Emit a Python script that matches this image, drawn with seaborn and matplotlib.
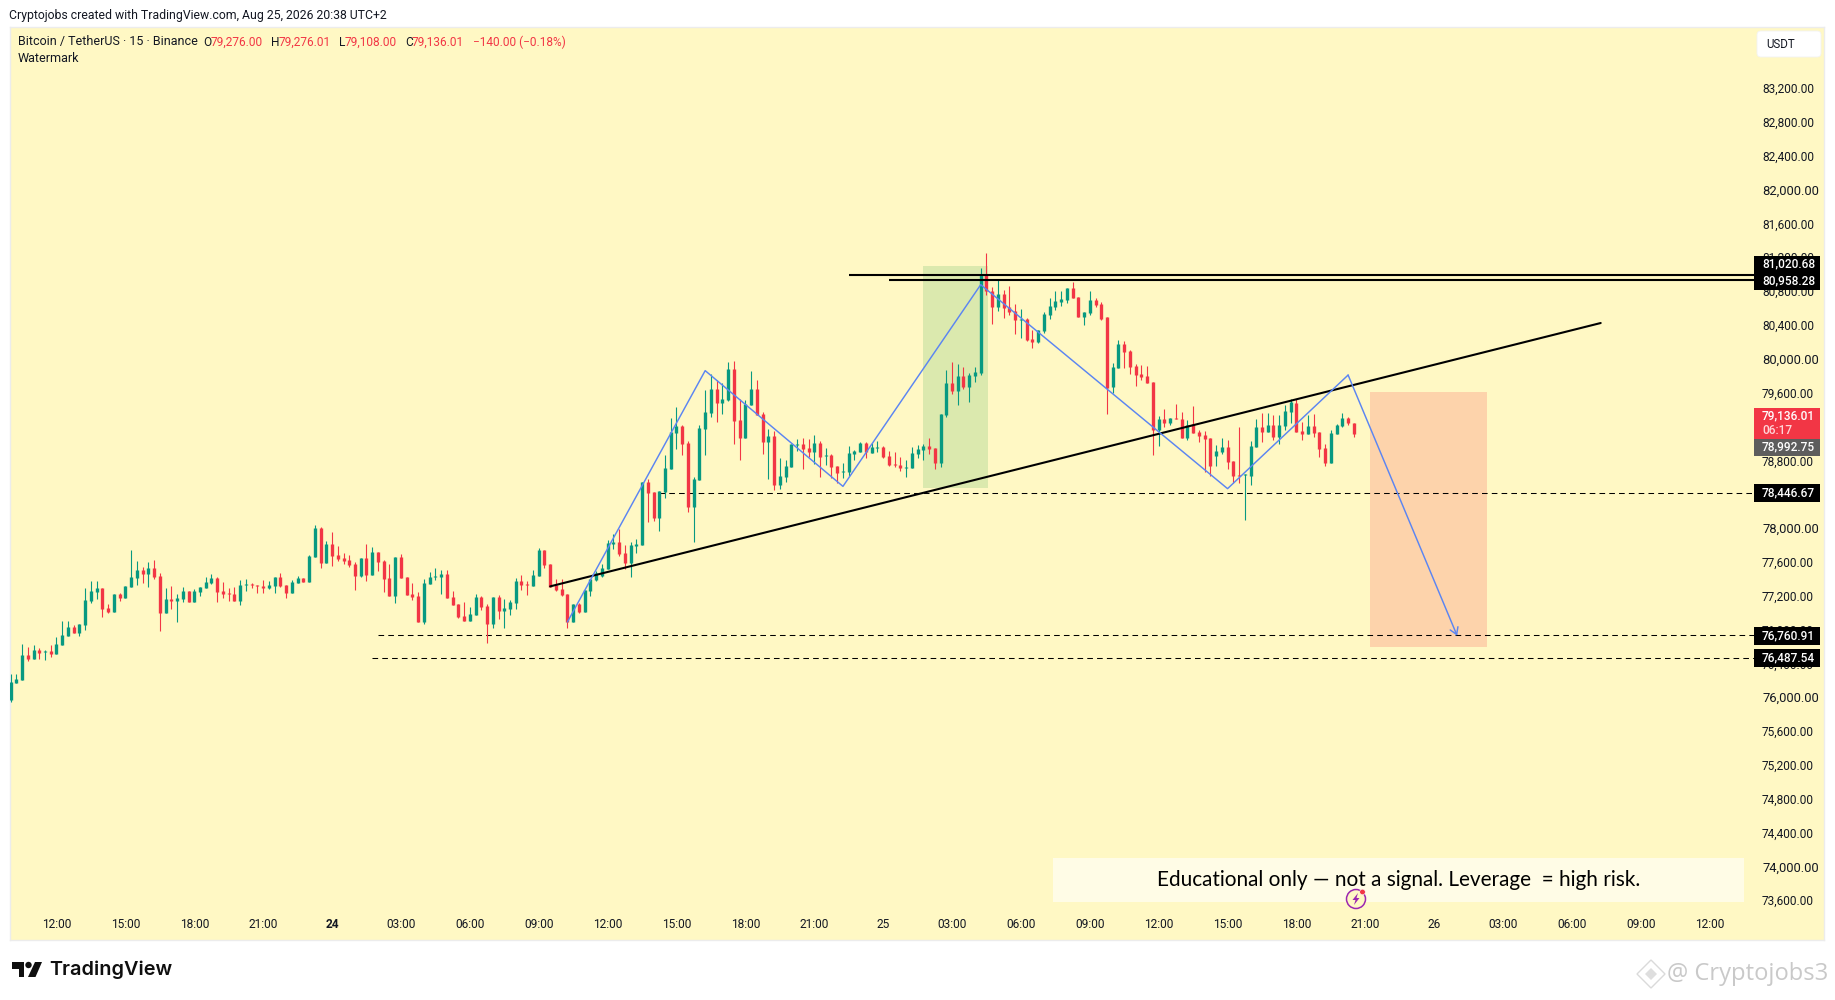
import matplotlib
matplotlib.use('Agg')
from matplotlib import pyplot as plt
from matplotlib.patches import Circle, FancyBboxPatch, Polygon, Rectangle
from matplotlib.transforms import ScaledTranslation
import pandas as pd
import seaborn as sns

# 15 minute candles, bar 0 is Aug 23 10:00
opens = [76000, 76197, 76233, 76528, 76481, 76587, 76564, 76576, 76540, 76647,
         76753, 76859, 76788, 76883, 77167, 77273, 77320, 77084, 77037, 77249,
         77202, 77331, 77438, 77532, 77485, 77556, 77461, 77024, 77190, 77166,
         77190, 77284, 77154, 77272, 77320, 77379, 77438, 77284, 77260, 77249,
         77166, 77355, 77367, 77355, 77343, 77320, 77343, 77450, 77355, 77260,
         77379, 77438, 77391, 77686, 78029, 77615, 77840, 77710, 77674, 77651,
         77603, 77461, 77674, 77473, 77745, 77639, 77438, 77225, 77686, 77450,
         77249, 77225, 76918, 77367, 77450, 77450, 77485, 77213, 77130, 76989,
         76930, 77000, 77213, 77107, 76894, 77213, 77048, 77071, 77142, 77402,
         77367, 77343, 77461, 77769, 77603, 77355, 77308, 77249, 76918, 77131,
         77036, 77284, 77414, 77461, 77544, 77840, 77863, 77733, 77615, 77816,
         77828, 78569, 78451, 78147, 78451, 78726, 79152, 79235, 79034, 78277,
         78596, 79199, 79388, 79672, 79507, 79538, 79908, 79306, 79093, 79483,
         79672, 79376, 79046, 79116, 78537, 78632, 78750, 79010, 79022, 78975,
         78927, 79034, 78880, 78892, 78762, 78691, 78691, 78904, 78927, 79034,
         78916, 78975, 78987, 78880, 78785, 78774, 78738, 78738, 78904, 78951,
         79000, 78975, 78797, 79365, 79743, 79648, 79826, 79696, 79826, 79861,
         81031, 80830, 80641, 80795, 80641, 80594, 80488, 80499, 80263, 80228,
         80357, 80547, 80641, 80700, 80724, 80866, 80759, 80523, 80570, 80724,
         80677, 80523, 79696, 79920, 80204, 80121, 79944, 79849, 79826, 79755,
         79187, 79317, 79270, 79329, 79317, 79093, 79258, 79164, 79128, 79093,
         78880, 78927, 78986, 78821, 78655, 78655, 78644, 78986, 79223, 79164,
         79246, 79105, 79235, 79400, 79506, 79176, 79140, 79235, 79164, 78975,
         78797, 79140, 79235, 79329, 79276]
highs = [76304, 76304, 76658, 76623, 76647, 76611, 76587, 76647, 76741, 76930,
         76930, 76883, 76895, 77320, 77403, 77403, 77320, 77131, 77249, 77261,
         77344, 77769, 77639, 77568, 77627, 77651, 77497, 77320, 77343, 77249,
         77331, 77284, 77308, 77331, 77450, 77485, 77450, 77391, 77320, 77331,
         77414, 77426, 77379, 77355, 77414, 77402, 77450, 77497, 77355, 77414,
         77461, 77438, 77710, 78064, 78041, 77875, 77982, 77816, 77733, 77710,
         77627, 77674, 77840, 77804, 77745, 77651, 77603, 77686, 77722, 77450,
         77379, 77272, 77426, 77509, 77556, 77532, 77532, 77284, 77130, 77154,
         77095, 77249, 77225, 77130, 77213, 77237, 77190, 77178, 77438, 77473,
         77402, 77532, 77792, 77769, 77603, 77426, 77426, 77249, 77131, 77142,
         77296, 77426, 77521, 77603, 77887, 77958, 78017, 77828, 77863, 77899,
         78569, 78608, 78451, 78462, 78892, 79329, 79459, 79246, 79057, 78632,
         79246, 79660, 79849, 79778, 79743, 79991, 80003, 79554, 79542, 79885,
         79778, 79400, 79199, 79176, 78856, 78833, 79022, 79081, 79093, 79081,
         79128, 79057, 78975, 78904, 78762, 78797, 78998, 78951, 79046, 79046,
         79034, 79057, 78998, 78939, 78927, 78868, 78833, 78987, 79010, 79022,
         79093, 78975, 79376, 79897, 79991, 79967, 79932, 79861, 79932, 81102,
         81280, 80878, 80960, 80842, 80889, 80677, 80618, 80511, 80369, 80369,
         80582, 80748, 80830, 80830, 80866, 80937, 80759, 80582, 80830, 80748,
         80700, 80523, 79979, 80251, 80239, 80133, 79967, 79956, 79944, 79755,
         79353, 79435, 79329, 79495, 79400, 79306, 79471, 79187, 79176, 79093,
         79010, 79093, 79069, 78821, 79223, 78667, 79057, 79317, 79388, 79388,
         79365, 79365, 79483, 79554, 79554, 79282, 79365, 79376, 79164, 79022,
         79187, 79258, 79388, 79341, 79276]
lows = [75969, 76197, 76233, 76457, 76481, 76481, 76469, 76505, 76540, 76647,
        76753, 76788, 76753, 76824, 77143, 77190, 76977, 77025, 77037, 77167,
        77202, 77331, 77355, 77379, 77331, 77426, 76811, 77024, 77071, 76918,
        77154, 77154, 77154, 77225, 77320, 77367, 77154, 77201, 77166, 77166,
        77119, 77284, 77320, 77260, 77260, 77308, 77260, 77331, 77201, 77260,
        77379, 77391, 77391, 77686, 77556, 77615, 77580, 77639, 77603, 77568,
        77296, 77450, 77402, 77473, 77521, 77272, 77225, 77142, 77438, 77237,
        77178, 76918, 76894, 77367, 77414, 77249, 77201, 77119, 76965, 76930,
        76930, 77000, 77060, 76670, 76847, 76953, 76847, 76996, 77071, 77296,
        77237, 77343, 77461, 77556, 77331, 77284, 77225, 76847, 76918, 77024,
        77036, 77225, 77402, 77450, 77544, 77781, 77698, 77544, 77450, 77733,
        77828, 78100, 78112, 77994, 78384, 78726, 78963, 78892, 78218, 77867,
        78596, 78892, 79341, 79282, 79376, 79530, 79022, 78833, 79093, 79483,
        79365, 78904, 78608, 78478, 78490, 78573, 78750, 78939, 78726, 78868,
        78785, 78632, 78774, 78620, 78561, 78620, 78644, 78833, 78927, 78856,
        78916, 78927, 78856, 78762, 78750, 78703, 78632, 78738, 78856, 78833,
        78904, 78726, 78750, 79341, 79613, 79483, 79672, 79518, 79755, 79837,
        80783, 80440, 80594, 80511, 80547, 80322, 80275, 80239, 80157, 80216,
        80334, 80499, 80606, 80653, 80689, 80748, 80523, 80428, 80547, 80641,
        80488, 79376, 79625, 79920, 79920, 79849, 79707, 79778, 79743, 78892,
        78998, 79223, 79246, 79317, 79093, 79069, 79152, 79046, 78691, 78644,
        78762, 78904, 78726, 78561, 78561, 78123, 78537, 78986, 79046, 79164,
        79069, 79022, 79187, 79270, 79164, 79069, 79140, 79105, 78868, 78762,
        78797, 79140, 79223, 79246, 79108]
closes = [76205, 76245, 76528, 76481, 76587, 76552, 76576, 76540, 76658, 76765,
          76859, 76788, 76895, 77178, 77285, 77320, 77072, 77037, 77249, 77202,
          77344, 77450, 77532, 77485, 77556, 77450, 77024, 77190, 77166, 77201,
          77284, 77154, 77284, 77331, 77391, 77438, 77272, 77249, 77249, 77166,
          77355, 77367, 77355, 77343, 77320, 77355, 77450, 77343, 77260, 77391,
          77438, 77391, 77698, 78029, 77615, 77840, 77698, 77662, 77639, 77592,
          77461, 77674, 77473, 77745, 77627, 77426, 77225, 77686, 77438, 77237,
          77213, 76918, 77379, 77450, 77461, 77485, 77201, 77119, 76977, 76930,
          77012, 77213, 77095, 76894, 77213, 77048, 77083, 77154, 77402, 77355,
          77355, 77473, 77769, 77591, 77331, 77296, 77237, 76918, 77131, 77036,
          77296, 77426, 77497, 77556, 77852, 77863, 77722, 77615, 77828, 77840,
          78569, 78447, 78147, 78462, 78738, 79164, 79235, 79022, 78277, 78608,
          79211, 79400, 79672, 79507, 79554, 79908, 79294, 79093, 79495, 79672,
          79365, 79046, 79116, 78537, 78644, 78762, 79022, 79022, 78963, 78927,
          79034, 78868, 78892, 78750, 78679, 78703, 78916, 78939, 79034, 78927,
          78987, 78987, 78868, 78774, 78774, 78738, 78750, 78916, 78963, 79000,
          78963, 78797, 79376, 79743, 79648, 79826, 79696, 79837, 79873, 81031,
          80830, 80641, 80795, 80629, 80582, 80488, 80499, 80251, 80228, 80369,
          80558, 80653, 80712, 80736, 80866, 80748, 80523, 80582, 80724, 80665,
          80499, 79684, 79932, 80204, 80109, 79932, 79837, 79814, 79743, 79187,
          79317, 79270, 79329, 79317, 79093, 79246, 79152, 79116, 79081, 78762,
          78939, 78986, 78809, 78644, 78644, 78667, 78998, 79223, 79164, 79246,
          79105, 79246, 79412, 79514, 79164, 79140, 79235, 79152, 78963, 78797,
          79152, 79246, 79329, 79270, 79136]

# drawings on the chart
zigzag_bars = [97, 121, 145, 169, 212, 233]
zigzag_prices = [76918, 79889, 78521, 80905, 78494, 79837]
arrow_end = (252, 76755)
trend_bars = [94, 277]
trend_prices = [77339, 80452]
solid_levels = [81020.68, 80958.28]
solid_starts = [146, 153]
dashed_levels = [78446.67, 76760.91, 76487.54]
dashed_starts = [113, 64, 63]
line_end = 304
green_zone = (159, 170.3, 78502, 81126)
red_zone = (236.8, 257.2, 76623, 79637)

# axis labels
price_ticks = list(range(73600, 83201, 400))
time_labels = ['12:00', '15:00', '18:00', '21:00', '24', '03:00', '06:00', '09:00', '12:00',
               '15:00', '18:00', '21:00', '25', '03:00', '06:00', '09:00', '12:00', '15:00',
               '18:00', '21:00', '26', '03:00', '06:00', '09:00', '12:00']
time_bars = list(range(8, 297, 12))

BG = '#fff8c4'
UP = '#089981'
DOWN = '#f23645'
BLUE = '#5b85f2'
INK = '#131722'

sns.set_theme(style='white')
plt.rcParams['font.family'] = ['Roboto', 'DejaVu Sans']

candles = pd.DataFrame({'bar': range(len(opens)), 'open': opens, 'high': highs, 'low': lows, 'close': closes})
candles['side'] = ['up' if c >= o else 'down' for o, c in zip(opens, closes)]
# very small bodies still need about one pixel
candles['top'] = candles[['open', 'close']].max(axis=1)
candles['bottom'] = candles[['open', 'close']].min(axis=1)
candles['top'] = candles[['top', 'bottom']].apply(lambda r: max(r['top'], r['bottom'] + 12), axis=1)

wicks = candles.melt(id_vars=['bar', 'side'], value_vars=['low', 'high'], value_name='price')
bodies = candles.melt(id_vars=['bar', 'side'], value_vars=['bottom', 'top'], value_name='price')

fig = plt.figure(figsize=(18.35, 10), dpi=100, facecolor='white')
ax = fig.add_axes([10 / 1835, 1 - 940 / 1000, 1814 / 1835, 913 / 1000], facecolor=BG)

palette = {'up': UP, 'down': DOWN}
sns.lineplot(data=wicks, x='bar', y='price', hue='side', units='bar', estimator=None, palette=palette,
             lw=0.8, solid_capstyle='butt', legend=False, zorder=3, ax=ax)
sns.lineplot(data=bodies, x='bar', y='price', hue='side', units='bar', estimator=None, palette=palette,
             lw=2.4, solid_capstyle='butt', legend=False, zorder=3, ax=ax)

ax.set_xlim(-0.1, 315.9)
ax.set_ylim(73159, 83951)

for x0, x1, y0, y1, color in [(*green_zone, '#dbe9ae'), (*red_zone, '#fdd3ab')]:
    ax.add_patch(Rectangle((x0, y0), x1 - x0, y1 - y0, facecolor=color, edgecolor='none', zorder=1))

ax.hlines(dashed_levels, dashed_starts, line_end, colors='black', lw=0.75, linestyles=[(0, (5.4, 4))], zorder=2)
ax.hlines(solid_levels, solid_starts, line_end, colors='black', lw=1.5, zorder=4)

sns.lineplot(x=trend_bars, y=trend_prices, color='black', lw=1.5, estimator=None, zorder=4, ax=ax)
sns.lineplot(x=zigzag_bars, y=zigzag_prices, color=BLUE, lw=1.05, estimator=None, sort=False, zorder=5, ax=ax)
ax.annotate('', xy=arrow_end, xytext=(zigzag_bars[-1], zigzag_prices[-1]), zorder=5,
            arrowprops=dict(arrowstyle='->,head_length=0.4,head_width=0.25', color=BLUE, lw=1.05, shrinkA=0, shrinkB=0))

ax.set_xlabel('')
ax.set_ylabel('')
ax.set_yticks(price_ticks, labels=[f'{p:,.2f}' for p in price_ticks])
ax.set_xticks(time_bars, labels=time_labels)
ax.yaxis.tick_right()
ax.tick_params(axis='y', length=0, pad=-62 * 0.72, labelsize=8.6, labelcolor=INK)
ax.tick_params(axis='x', length=0, pad=-15.5 * 0.72, labelsize=8.6, labelcolor=INK)
# tick labels sit a bit above the price they stand for
nudge = ScaledTranslation(0, 2.5 / 100, fig.dpi_scale_trans)
for tick, price in zip(ax.yaxis.get_major_ticks(), price_ticks):
    tick.label2.set_transform(tick.label2.get_transform() + nudge)
    if price % 2000 == 0:
        tick.label2.set_fontsize(9.4)
for label in ax.get_xticklabels():
    label.set_verticalalignment('center')
    if label.get_text() == '24':
        label.set_fontweight('bold')
for spine in ax.spines.values():
    spine.set_color('#ececec')
    spine.set_linewidth(1.0)

# everything below is placed in screen pixels
ov = fig.add_axes([0, 0, 1, 1], zorder=10)
ov.set_xlim(0, 1835)
ov.set_ylim(1000, 0)
ov.axis('off')


def tag(y0, y1, color, rows):
    ov.add_patch(Rectangle((1754, y0), 66, y1 - y0, facecolor=color, edgecolor='none'))
    for y, text, text_color in rows:
        ov.text(1762, y, text, color=text_color, fontsize=8.6, fontweight='medium', ha='left', va='center')


tag(256, 272, 'black', [(264, '81,020.68', 'white')])
tag(272, 290, 'black', [(281, '80,958.28', 'white')])
tag(408, 439, DOWN, [(416, '79,136.01', 'white'), (430, '06:17', '#ffd5d8')])
tag(439, 456, '#5d5d5d', [(447, '78,992.75', 'white')])
tag(484, 502, 'black', [(493, '78,446.67', 'white')])
tag(627, 645, 'black', [(636, '76,760.91', 'white')])
tag(649, 667, 'black', [(658, '76,487.54', 'white')])

ov.add_patch(FancyBboxPatch((1760, 34), 58, 20, boxstyle='round,pad=3,rounding_size=4',
                            facecolor='white', edgecolor='#f3f3f3', lw=0.6))
ov.text(1766, 44.5, 'USDT', color=INK, fontsize=8.3, va='center')

ov.text(9, 15, 'Cryptojobs created with TradingView.com, Aug 25, 2026 20:38 UTC+2', color=INK, fontsize=8.8, va='center')
ov.text(18, 42, 'Bitcoin / TetherUS · 15 · Binance', color=INK, fontsize=9.0, va='center')
for x, text, color in [(203, 'O', INK), (210.5, '79,276.00', DOWN), (270.5, 'H', INK), (279, '79,276.01', DOWN),
                       (339, 'L', INK), (345, '79,108.00', DOWN), (405, 'C', INK), (412, '79,136.01', DOWN),
                       (473, '−140.00 (−0.18%)', DOWN)]:
    ov.text(x, 42, text, color=color, fontsize=8.6, va='center')
ov.text(18, 58.5, 'Watermark', color=INK, fontsize=9.0, va='center')

ov.add_patch(Rectangle((1053, 858), 691, 44, facecolor='#fffce6', edgecolor='none'))
ov.text(1157, 880.5, 'Educational only — not a signal. Leverage  = high risk.', color='black',
        family=['Lato', 'DejaVu Sans'], fontsize=14.95, va='center')

ov.add_patch(Circle((1356, 899), 9.5, facecolor=BG, edgecolor='#9c27b0', lw=1.1))
ov.add_patch(Polygon([(1358, 893), (1352.5, 900), (1355.5, 900), (1354, 905), (1359.5, 898), (1356.5, 898)],
                     facecolor='#9c27b0', edgecolor='none'))
ov.add_patch(Circle((1362.5, 892), 2.8, facecolor=DOWN, edgecolor='white', lw=0.4))

# TradingView logo
ov.add_patch(Polygon([(12, 962), (24, 962), (24, 977), (19, 977), (19, 968.5), (12, 968.5)], facecolor='#0f0f0f', edgecolor='none'))
ov.add_patch(Circle((28.5, 965), 3.2, facecolor='#0f0f0f', edgecolor='none'))
ov.add_patch(Polygon([(35, 962), (42, 962), (35.5, 977), (28, 977)], facecolor='#0f0f0f', edgecolor='none'))
ov.text(49, 969.5, 'TradingView', color='#0f0f0f', family=['Inter', 'DejaVu Sans'], fontsize=14.3,
        fontweight='semibold', va='center')

# watermark, bottom right
ov.text(1667, 974, '@ Cryptojobs3', color='#c9c9c9', family=['Open Sans', 'DejaVu Sans'], fontsize=17.1, va='center')
ov.add_patch(Polygon([(1651, 960), (1665, 974), (1651, 988), (1637, 974)], facecolor='none', edgecolor='#dadada', lw=1.0))
ov.add_patch(Polygon([(1651, 968), (1657, 974), (1651, 980), (1645, 974)], facecolor='#dedede', edgecolor='none'))

fig.savefig('out.png', dpi=100, facecolor='white')
